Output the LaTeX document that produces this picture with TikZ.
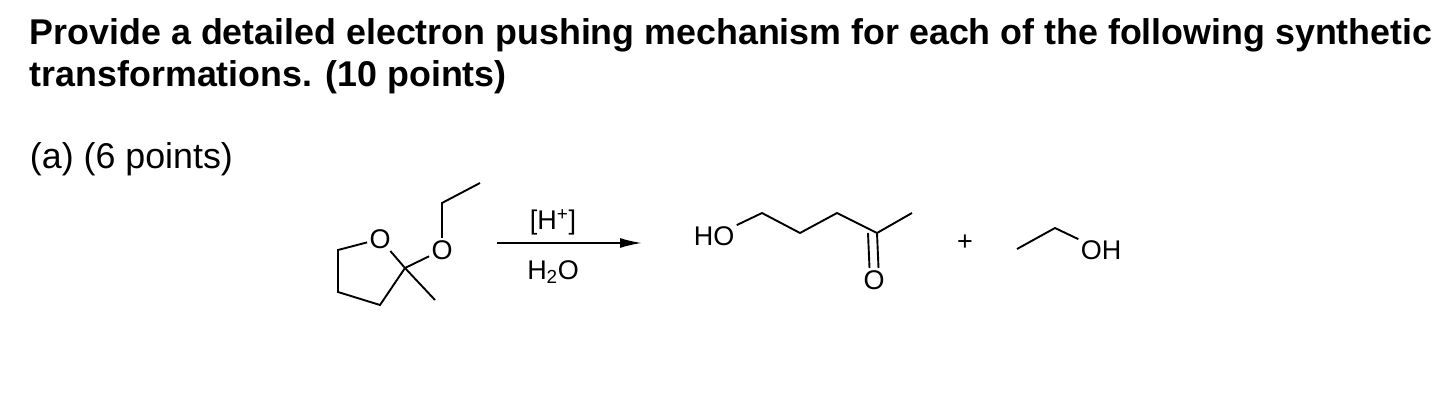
\documentclass[tikz,border=0pt]{standalone}
\usepackage{fontspec}
\setmainfont{Liberation Sans}
\usetikzlibrary{arrows.meta}
\begin{document}
\begin{tikzpicture}[x=1pt,y=-1pt,line width=1.9pt,
  lbl/.style={inner sep=1.5pt,font=\fontsize{27}{27}\selectfont},
  ttl/.style={anchor=base west,inner sep=0pt,font=\fontsize{35.8}{36}\selectfont\bfseries},
  bd/.style={line join=miter}]
\useasboundingbox (0,0) rectangle (1456,404);
\node[ttl] (t1) at (29,45) {Provide a detailed electron pushing mechanism for each of the following synthetic};
\node[ttl] (t2) at (29,86) {transformations. (10 points)};
\node[ttl,font=\fontsize{35.8}{36}\selectfont] (t3) at (29,168) {(a) (6 points)};
% reactant
\node[lbl] (o1) at (380,239) {O};
\node[lbl] (o2) at (442,250) {O};
\coordinate (c1) at (338,250);
\coordinate (c2) at (338,292);
\coordinate (c3) at (380,305);
\coordinate (cs) at (405,268);
\coordinate (me) at (435,300);
\coordinate (ce1) at (442,203);
\coordinate (ce2) at (480,183);
\draw[bd] (o1) -- (c1) -- (c2) -- (c3) -- (cs) -- (o1);
\draw (cs) -- (me);
\draw (cs) -- (o2);
\draw[bd] (o2) -- (ce1) -- (ce2);
% arrow
\coordinate (a1) at (497,243);
\coordinate (a2) at (642,243);
\draw[-{Latex[length=22pt,width=10pt]}] (a1) -- (a2);
\node[lbl] (h1) at (553,222) {[H\textsuperscript{+}]};
\node[lbl] (h2) at (553,272) {H\textsubscript{2}O};
% product
\node[lbl] (ho) at (714,236) {HO};
\coordinate (p1) at (762,213);
\coordinate (p2) at (800,233);
\coordinate (p3) at (837,213);
\coordinate (pc) at (877,233);
\coordinate (pm) at (912,213);
\node[lbl] (po) at (874,280) {O};
\draw[bd] (ho) -- (p1) -- (p2) -- (p3) -- (pc) -- (pm);
\draw ([xshift=-9pt]pc) -- ([xshift=-4.5pt]po.north);
\draw (pc) -- ([xshift=4.5pt]po.north);
\node[lbl] (plus) at (965,243) {+};
\coordinate (e1) at (1017,249);
\coordinate (e2) at (1055,228);
\node[lbl] (oh) at (1101,250) {OH};
\draw[bd] (e1) -- (e2) -- (oh);
\end{tikzpicture}
\end{document}
